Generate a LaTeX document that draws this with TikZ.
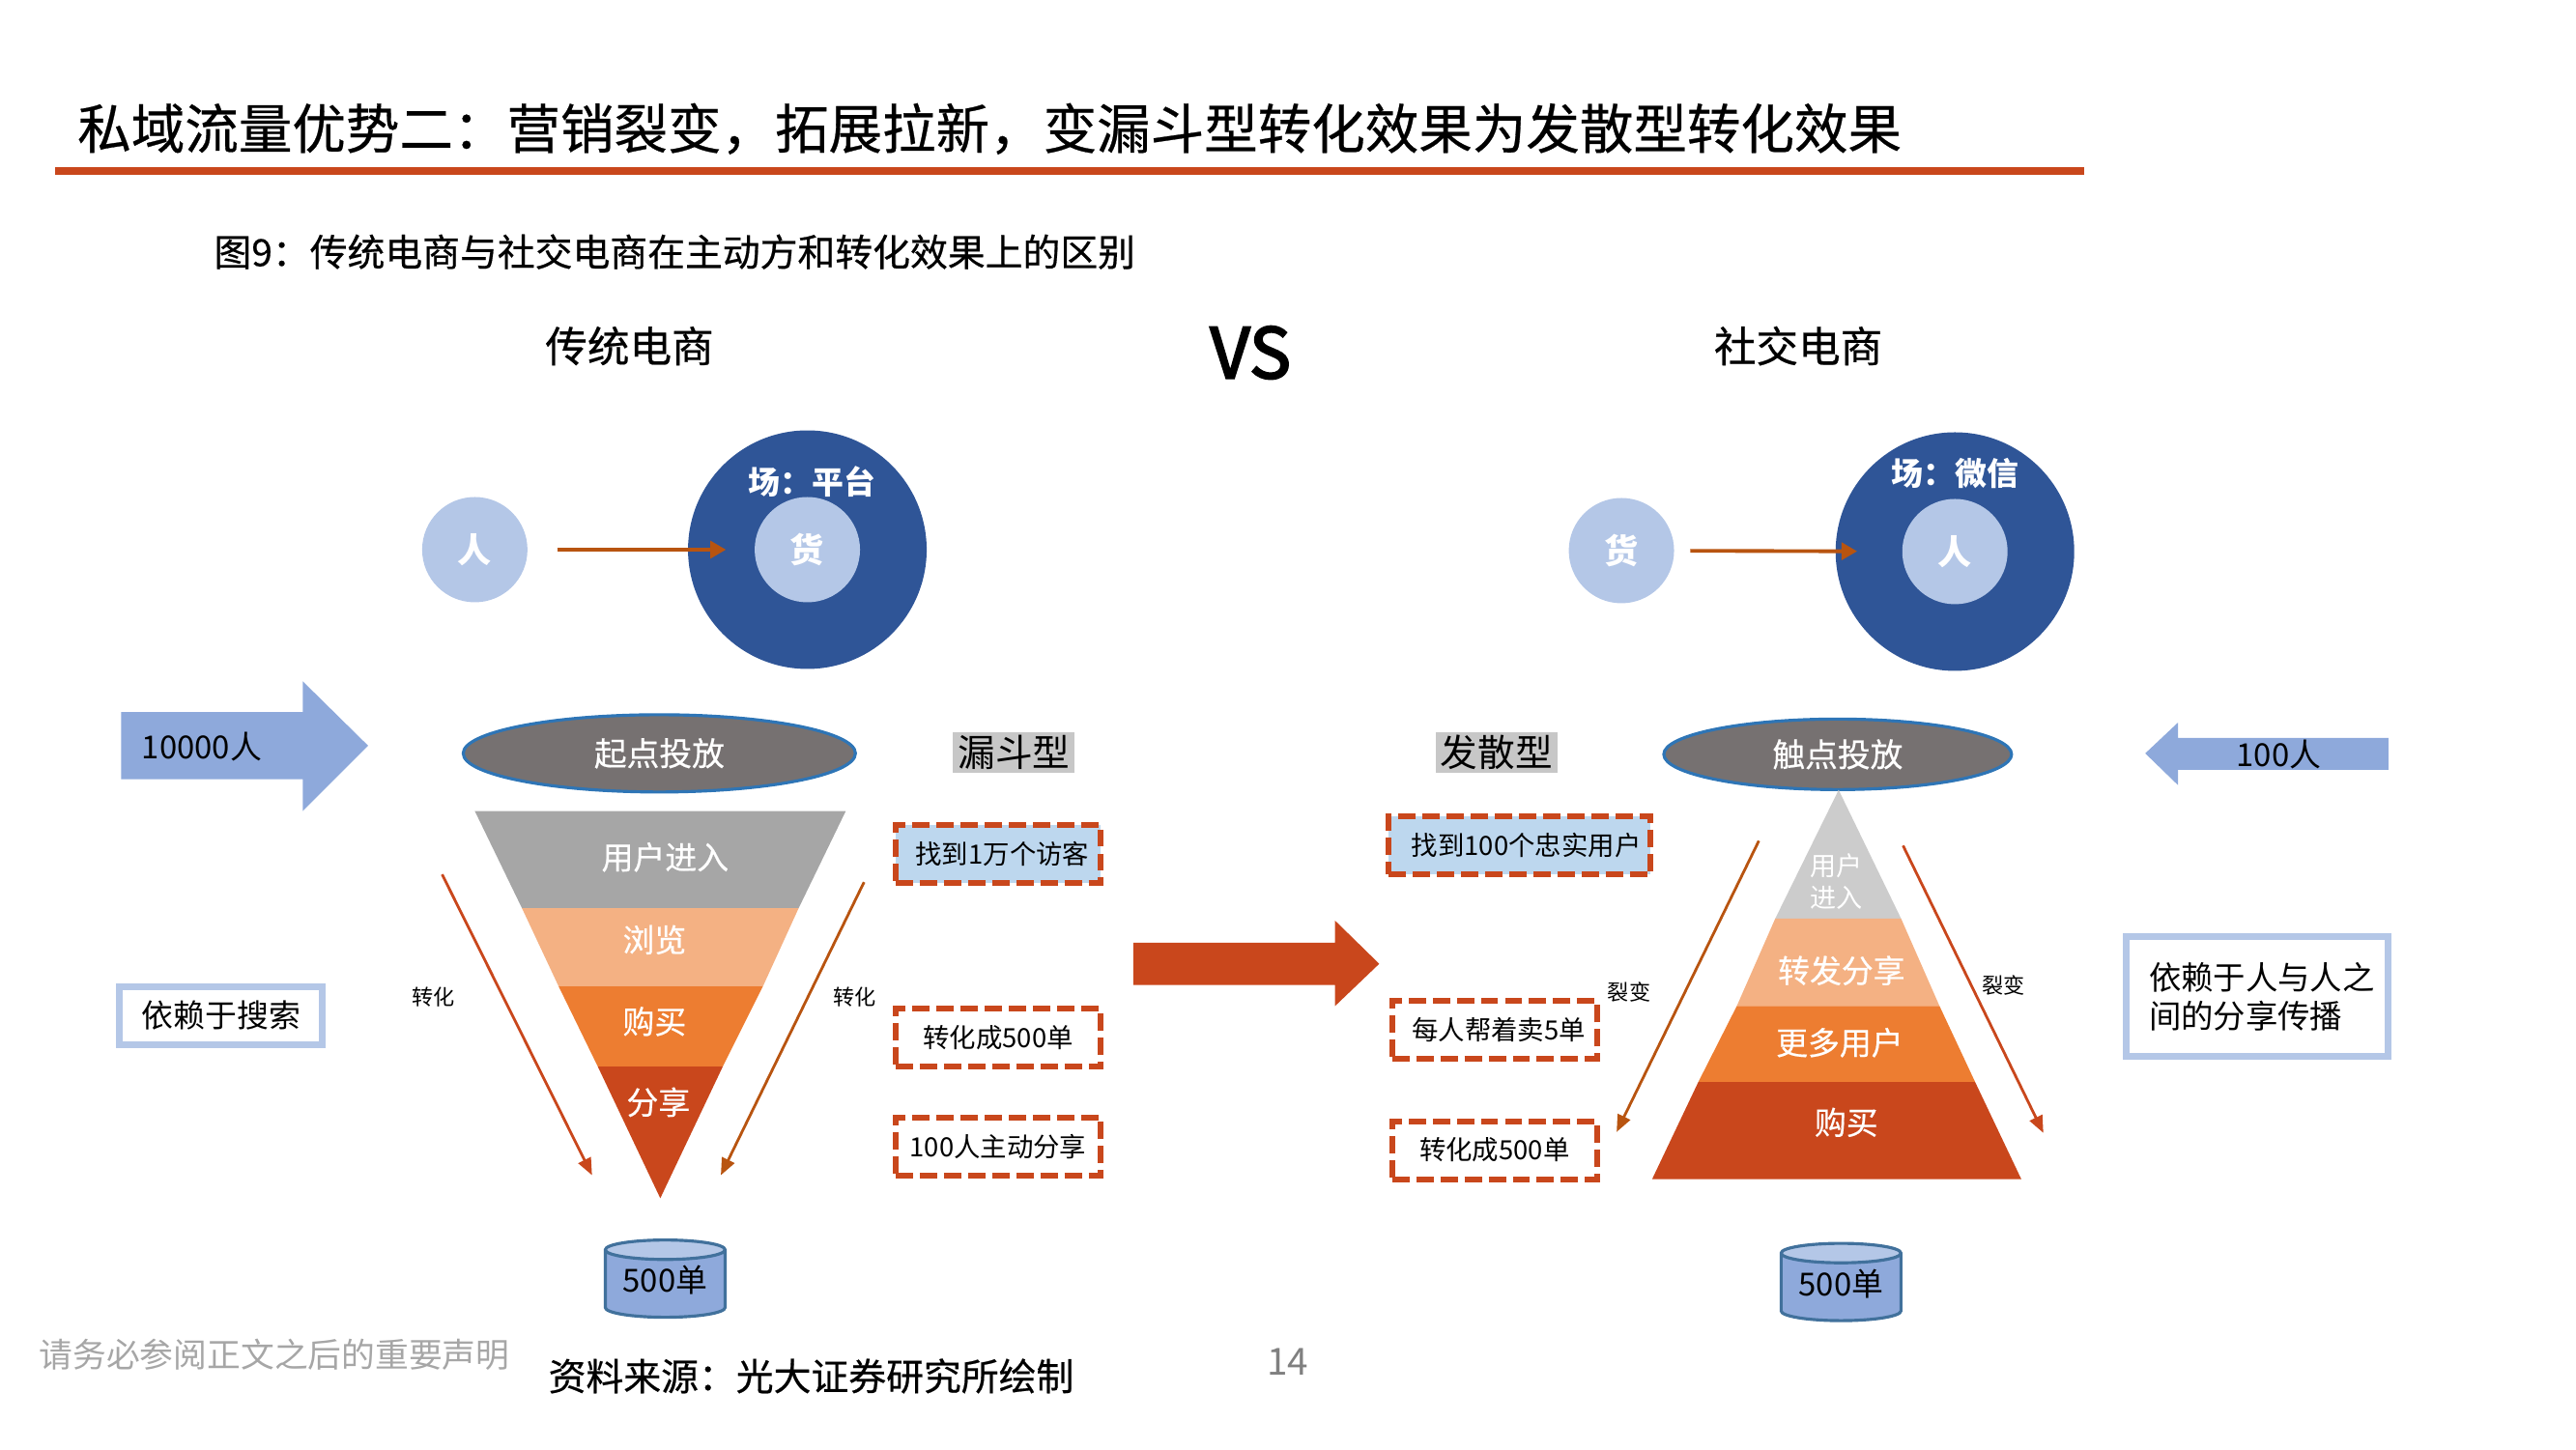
\documentclass[tikz,border=0pt]{standalone}
\usepackage{fontspec}
\usetikzlibrary{arrows.meta,shapes.geometric}
\setmainfont{Noto Sans CJK SC}
\newfontfamily\medfont[FakeBold=0.5]{Noto Sans CJK SC}
\newfontfamily\versusfont[FakeBold=3]{Noto Sans CJK SC}
\newcommand{\fsize}[1]{\fontsize{#1}{#1}\selectfont}
\definecolor{rustcolor}{HTML}{C9471C}
\definecolor{browncolor}{HTML}{B85410}
\definecolor{bluecolor}{HTML}{8EA9DB}
\definecolor{palecolor}{HTML}{B4C7E7}
\definecolor{navycolor}{HTML}{2F5597}
\definecolor{edgecolor}{HTML}{2E75B6}
\definecolor{steelcolor}{HTML}{41719C}
\definecolor{skycolor}{HTML}{BDD7EE}
\definecolor{greycolor}{HTML}{767171}
\definecolor{peachcolor}{HTML}{F4B183}
\definecolor{orangecolor}{HTML}{ED7D31}

\begin{document}
\begin{tikzpicture}[x=0.009947cm, y=-0.009947cm,
  bandtext/.style={text=white, font=\medfont\fsize{9.35}, inner sep=0pt},
  plaintext/.style={font=\fsize{9.35}, inner sep=0pt},
  smalltext/.style={font=\fsize{6.3}, inner sep=0pt},
  headtext/.style={font=\medfont\fsize{12.4}, inner sep=0pt},
  typelabel/.style={fill=black!22, font=\fsize{11}, inner xsep=0pt, inner ysep=0pt, minimum width=1.26cm, minimum height=0.42cm},
  dashbox/.style={draw=rustcolor, line width=1.65pt, dash pattern=on 5.1pt off 2pt, font=\fsize{7.8}, minimum width=2.12cm, minimum height=0.6cm, inner sep=0pt},
  notebox/.style={draw=palecolor, line width=2pt, fill=white, font=\fsize{9.35}, inner sep=0pt},
  startnode/.style={ellipse, draw=edgecolor, line width=0.9pt, fill=greycolor, text=white, font=\medfont\fsize{9.6}, inner sep=0pt},
  bignode/.style={circle, fill=navycolor, minimum size=2.47cm, inner sep=0pt},
  smallnode/.style={circle, fill=palecolor, text=white, font=\bfseries\fsize{10}, minimum size=1.09cm, inner sep=0pt},
  barrel/.style={cylinder, shape border rotate=90, shape aspect=0.23, draw=steelcolor, line width=0.9pt, cylinder uses custom fill, cylinder body fill=bluecolor, cylinder end fill=palecolor, minimum width=1.24cm, minimum height=0.8cm, font=\fsize{9.35}, inner sep=0pt},
  flow/.style={draw=browncolor, line width=1.1pt, -{Triangle[length=4.6pt,width=5pt]}},
  slant/.style={line width=0.8pt, -{Triangle[length=5pt,width=4pt]}}]

  \useasboundingbox (0,0) rectangle (2680.2,1508);

  % heading
  \node[anchor=west, font=\medfont\fsize{15.8}, inner sep=0pt] (title) at (80,134) {私域流量优势二：营销裂变，拓展拉新，变漏斗型转化效果为发散型转化效果};
  \fill[rustcolor] (57,173.5) rectangle (2168,182);
  \node[anchor=west, font=\medfont\fsize{11.05}, inner sep=0pt] (caption) at (222,262) {图9：传统电商与社交电商在主动方和转化效果上的区别};
  \node[headtext] (lefthead) at (655,360) {传统电商};
  \node[headtext] (righthead) at (1871,360) {社交电商};
  \node[font=\versusfont\fsize{20.5}, inner sep=0pt] (versus) at (1301,367) {VS};

  % left circles
  \node[smallnode] (personL) at (494,572) {人};
  \node[bignode] (siteL) at (840,572) {};
  \node[smallnode] (goodsL) at (840,572) {货};
  \node[text=white, font=\bfseries\fsize{9.35}, inner sep=0pt] (siteLtext) at (845,501) {场：平台};
  \draw[flow, shorten <=0.3cm, shorten >=0.29cm] (personL) -- (goodsL);

  % right circles
  \node[smallnode] (goodsR) at (1687,573) {货};
  \node[bignode] (siteR) at (2034,574) {};
  \node[smallnode] (personR) at (2034,574) {人};
  \node[text=white, font=\bfseries\fsize{9.35}, inner sep=0pt] (siteRtext) at (2034,493) {场：微信};
  \draw[flow, shorten <=0.16cm, shorten >=0.46cm] (goodsR) -- (personR);

  % block arrows
  \fill[bluecolor] (126,741) -- (315,741) -- (315,709) -- (383,776) -- (315,844) -- (315,811) -- (126,811) -- cycle;
  \node[plaintext] (usersL) at (210,777) {10000人};
  \fill[bluecolor] (2485,768) -- (2266,768) -- (2266,752) -- (2232,784) -- (2266,817) -- (2266,801) -- (2485,801) -- cycle;
  \node[plaintext] (usersR) at (2371,785) {100人};
  \fill[rustcolor] (1179,981) -- (1389,981) -- (1389,958) -- (1435,1003) -- (1389,1047) -- (1389,1025) -- (1179,1025) -- cycle;

  % funnel
  \node[startnode, minimum width=4.06cm, minimum height=0.8cm] (startL) at (686,784) {起点投放};
  \node[typelabel] (typeL) at (1055,783) {漏斗型};
  \fill[black!35] (494,844) -- (880,844) -- (831,945) -- (543,945) -- cycle;
  \fill[peachcolor] (543,945) -- (831,945) -- (794,1026) -- (581,1026) -- cycle;
  \fill[orangecolor] (581,1026) -- (794,1026) -- (752,1110) -- (622,1110) -- cycle;
  \fill[rustcolor] (622,1110) -- (752,1110) -- (687,1247) -- cycle;
  \node[bandtext] (enterL) at (692,892) {用户进入};
  \node[bandtext] (browseL) at (681,978) {浏览};
  \node[bandtext] (buyL) at (681,1063) {购买};
  \node[bandtext] (shareL) at (685,1147) {分享};

  \coordinate (slantLa) at (460,910);
  \coordinate (slantLb) at (616,1223);
  \coordinate (slantLc) at (899,918);
  \coordinate (slantLd) at (750,1223);
  \draw[slant, draw=rustcolor] (slantLa) -- (slantLb);
  \draw[slant, draw=browncolor] (slantLc) -- (slantLd);
  \node[smalltext] (convL) at (451,1038) {转化};
  \node[smalltext] (convR) at (889,1038) {转化};

  \node[notebox, minimum width=2.1cm, minimum height=0.6cm] (noteL) at (230,1057) {依赖于搜索};
  \node[dashbox, fill=skycolor] (findL) at (1038.5,888.7) {\hspace*{2.5pt}找到1万个访客};
  \node[dashbox] (sellL) at (1038.5,1080) {转化成500单};
  \node[dashbox] (passL) at (1038.5,1193) {100人主动分享};
  \node[barrel] (orderL) at (692.1,1336.5) {\raisebox{3pt}{500单}};

  % pyramid
  \node[startnode, minimum width=3.6cm, minimum height=0.73cm] (startR) at (1912,785) {触点投放};
  \node[typelabel] (typeR) at (1557,783) {发散型};
  \fill[black!20] (1913,822) -- (1978,956) -- (1847,956) -- cycle;
  \fill[peachcolor] (1847,956) -- (1978,956) -- (2018,1047) -- (1807,1047) -- cycle;
  \fill[orangecolor] (1807,1047) -- (2018,1047) -- (2055,1126) -- (1767,1126) -- cycle;
  \fill[rustcolor] (1767,1126) -- (2055,1126) -- (2103,1227) -- (1719,1227) -- cycle;
  \node[text=white, align=center, font=\fsize{7.7}, inner sep=0pt] (enterR) at (1911,917) {用户\\[1.7pt]进入};
  \node[bandtext] (passR) at (1916,1010) {转发分享};
  \node[bandtext] (moreR) at (1914,1085) {更多用户};
  \node[bandtext] (buyR) at (1921,1168) {购买};

  \coordinate (slantRa) at (1830,875);
  \coordinate (slantRb) at (1682,1178);
  \coordinate (slantRc) at (1980,880);
  \coordinate (slantRd) at (2126,1179);
  \draw[slant, draw=browncolor] (slantRa) -- (slantRb);
  \draw[slant, draw=rustcolor] (slantRc) -- (slantRd);
  \node[smalltext] (fissionL) at (1695,1032) {裂变};
  \node[smalltext] (fissionR) at (2085,1025) {裂变};

  \node[dashbox, fill=skycolor, minimum width=2.71cm] (findR) at (1581,880) {\hspace*{4pt}找到100个忠实用户};
  \node[dashbox] (sellR) at (1555,1071.5) {\hspace*{2.5pt}每人帮着卖5单};
  \node[dashbox] (turnR) at (1555,1197) {转化成500单};
  \node[notebox, minimum width=2.71cm, minimum height=1.24cm, align=left, font=\fsize{9.5}] (noteR) at (2348,1037) {\hspace*{3pt}依赖于人与人之\\[1.9pt]\hspace*{3pt}间的分享传播};
  \node[barrel] (orderR) at (1915.5,1340) {\raisebox{3pt}{500单}};

  % footer
  \node[anchor=west, text=black!35, font=\fsize{9.9}, inner sep=0pt] (notice) at (40,1410) {请务必参阅正文之后的重要声明};
  \node[anchor=west, font=\medfont\fsize{11.05}, inner sep=0pt] (source) at (570,1432) {资料来源：光大证券研究所绘制};
  \node[text=black!50, font=\fsize{11}, inner sep=0pt] (pagenum) at (1340,1417) {14};
\end{tikzpicture}
\end{document}
